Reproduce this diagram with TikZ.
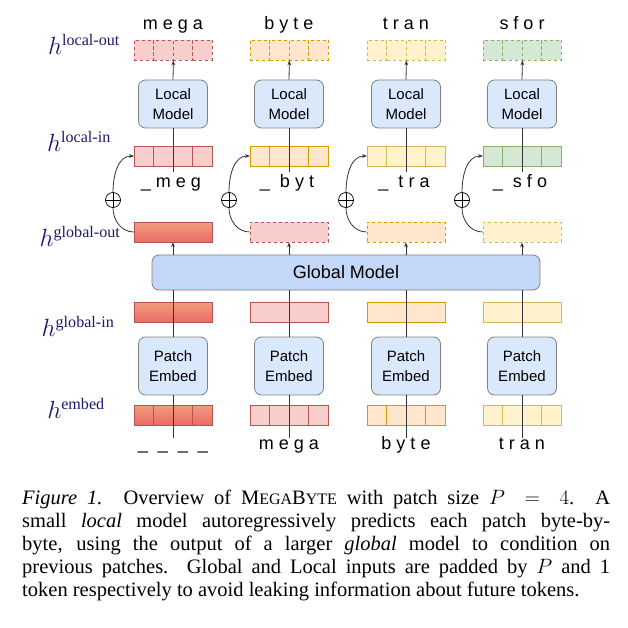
\documentclass[tikz,border=0pt]{standalone}
\usepackage{amsmath}
\usepackage{fontspec}
\setmainfont{Liberation Serif}
\newfontfamily\diag{Liberation Sans}
\usetikzlibrary{arrows.meta}
\definecolor{redF}{HTML}{F8CECC}\definecolor{redD}{HTML}{B85450}
\definecolor{orF}{HTML}{FFE6CC}\definecolor{orD}{HTML}{D79B00}
\definecolor{yeF}{HTML}{FFF2CC}\definecolor{yeD}{HTML}{D6B656}
\definecolor{grF}{HTML}{D5E8D4}\definecolor{grD}{HTML}{82B366}
\definecolor{boxF}{HTML}{DAE8FC}\definecolor{gmF}{HTML}{C3D8F8}
\definecolor{hotT}{HTML}{F19C7E}\definecolor{hotB}{HTML}{EA6B66}
\definecolor{hblue}{HTML}{1A1A6E}
\tikzset{
  cell/.style={draw=#1D, fill=#1F, minimum width=19.5pt, minimum height=20pt, inner sep=0pt, line width=0.8pt},
  bar/.style={draw=#1D, fill=#1F, minimum width=78pt, minimum height=20pt, inner sep=0pt, line width=0.8pt},
  hot/.style={draw=redD, top color=hotT, bottom color=hotB, minimum width=78pt, minimum height=20pt, inner sep=0pt},
  model/.style={draw=gray, fill=boxF, rounded corners=7pt, minimum width=69pt, minimum height=48pt, align=center, font=\diag\fontsize{15}{20}\selectfont, line width=0.8pt},
  lbl/.style={font=\diag\fontsize{18}{18}\selectfont, anchor=base},
  hl/.style={text=hblue, font=\fontsize{23}{23}\selectfont},
  conn/.style={line width=0.8pt, draw=black!80},
  arr/.style={conn, -{Stealth[length=5pt]}},
}
\begin{document}
\begin{tikzpicture}[x=1pt,y=-1pt]
\useasboundingbox (0,0) rectangle (627,628);
% row labels
\node[hl] (h1) at (84,44) {$h^{\text{local-out}}$};
\node[hl] (h2) at (79,141) {$h^{\text{local-in}}$};
\node[hl] (h3) at (80,236) {$h^{\text{global-out}}$};
\node[hl] (h4) at (78,326) {$h^{\text{global-in}}$};
\node[hl] (h5) at (76,408) {$h^{\text{embed}}$};
% global model
\node[model, fill=gmF, minimum width=388pt, minimum height=35pt, font=\diag\fontsize{18}{18}\selectfont] (gm) at (346,272.5) {Global Model};
\foreach \i/\x/\lo/\li/\go/\gi/\top/\mid/\bot in {
  1/173/red/red/hot/hot/m e g a/\_ m e g/\_\ \ \_\ \ \_\ \ \_,
  2/289/or/or/red/red/b y t e/\_\ \ b y t/m e g a,
  3/406/ye/ye/or/or/t r a n/\_\ \ t r a/b y t e,
  4/522/gr/gr/ye/ye/s f o r/\_\ \ s f o/t r a n}{
  \foreach \k in {0,1,2,3}
    \node[cell=\lo, dashed] (lo\i\k) at ({\x-29.25+19.5*\k},50) {};
  \node[lbl] (t\i) at (\x,30) {\top};
  \node[model] (lm\i) at (\x,104) {Local\\Model};
  \foreach \k in {0,1,2,3}
    \node[cell=\li] (li\i\k) at ({\x-29.25+19.5*\k},156) {};
  \coordinate (liw\i) at (\x-39,156);
  \node[lbl] (m\i) at (\x-2,188) {\mid};
  \coordinate (c\i) at (\x,172);
  \ifnum\i=1
    \node[hot] (go\i) at (\x,232) {};
    \node[hot] (gi\i) at (\x,312) {};
    \foreach \k in {0,1,2,3}
      \node[cell=red, top color=hotT, bottom color=hotB] (em\i\k) at ({\x-29.25+19.5*\k},415) {};
  \else
    \node[bar=\go, dashed] (go\i) at (\x,232) {};
    \node[bar=\gi] (gi\i) at (\x,312) {};
    \foreach \k in {0,1,2,3}
      \node[cell=\gi] (em\i\k) at ({\x-29.25+19.5*\k},415) {};
  \fi
  \node[model, minimum height=58pt] (pe\i) at (\x,366) {Patch\\Embed};
  \node[lbl] (b\i) at (\x,449) {\bot};
  \coordinate (bb\i) at (\x,438);
  % connectors
  \draw[conn] (bb\i) -- (pe\i.south);
  \draw[conn] (pe\i.north) -- (pe\i.north |- gm.south);
  \draw[arr] (gm.north -| go\i) -- (go\i.south);
  \draw[conn] (c\i) -- (lm\i.south);
  \draw[arr] (lm\i.north) -- (lo\i1.south east);
  \node[draw, circle, minimum size=15pt, inner sep=0pt, line width=0.7pt] (op\i) at (\x-60,200) {};
  \draw[line width=0.7pt] (op\i.north) -- (op\i.south) (op\i.west) -- (op\i.east);
  \draw[conn] (go\i.west) to[out=180,in=-90] (op\i.south);
  \draw[arr] (op\i.north) to[out=90,in=180] (liw\i);
}
% caption
\node[anchor=north west, text width=588pt, align=justify, inner sep=0pt,
  font=\fontsize{20.5}{23}\selectfont] (cap) at (22,490) {%
\textit{Figure 1.} Overview of M{\fontsize{16}{12}\selectfont EGA}B{\fontsize{16}{12}\selectfont YTE} with patch size $P\,=\,4$. A\linebreak
small \textit{local} model autoregressively predicts each patch byte-by-\linebreak
byte, using the output of a larger \textit{global} model to condition on\linebreak
previous patches. Global and Local inputs are padded by $P$ and 1\linebreak
token respectively to avoid leaking information about future tokens.};
\end{tikzpicture}
\end{document}
